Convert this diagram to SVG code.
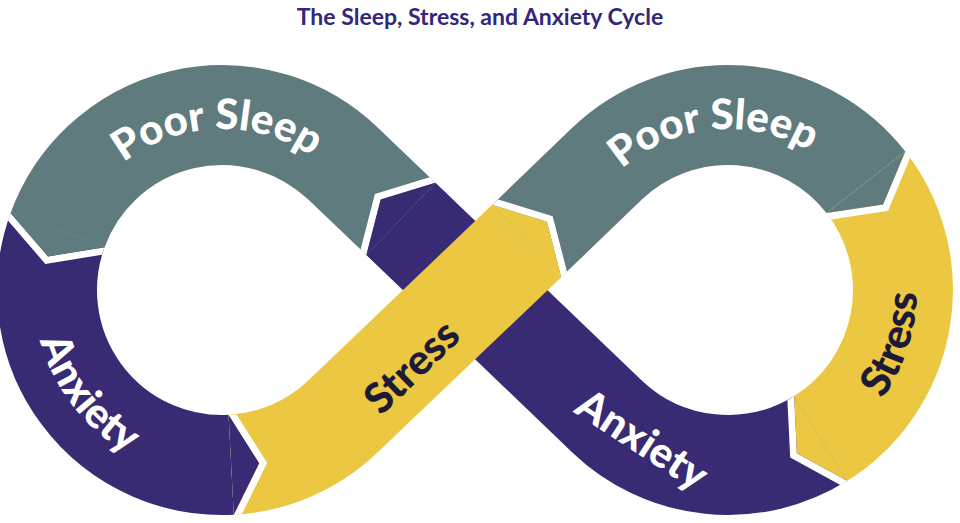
<svg xmlns="http://www.w3.org/2000/svg" width="960" height="523" viewBox="0 0 960 523">
<style>
.band{fill:none;stroke-width:100;stroke-linecap:butt;stroke-linejoin:round}
.g{stroke:#5f7b7d}.p{stroke:#382b73}.y{stroke:#ecc741}
.gap{fill:#ffffff}
.lbl{font-family:Lato,"Open Sans",sans-serif;font-weight:900;font-size:42px}
.w{fill:#ffffff}.d{fill:#1d1a36}
</style>
<defs>
<path id="arcPS1" d="M61 290 A161 161 0 0 1 383 290"/>
<path id="arcPS2" d="M567 290 A161 161 0 0 1 889 290"/>
<path id="arcAx1" d="M222 101 A189 189 0 0 0 222 479"/>
<path id="arcSt2" d="M728 479 A189 189 0 0 0 728 101"/>
</defs>
<rect width="960" height="523" fill="#ffffff"/>
<text x="480" y="25" text-anchor="middle" style="font-family:Lato,'Open Sans',sans-serif;font-weight:700;font-size:23px;fill:#33277a">The Sleep, Stress, and Anxiety Cycle</text>
<g id="connectors">
<path id="purple-left" class="band p" d="M57.6 230.1 A175 175 0 0 0 231.2 464.8"/>
<path id="grey-left" class="band g" d="M400.9 218.9 L343.1 163.7 A175 175 0 0 0 57.6 230.1"/>
<path id="purple-right" class="band p" d="M820.7 438.4 A175 175 0 0 1 606.9 416.3 L400.9 218.9"/>
<path id="grey-right" class="band g" d="M526.7 241 L606.9 163.7 A175 175 0 0 1 865.9 182.3"/>
<path id="yellow-right" class="band y" d="M865.9 182.3 A175 175 0 0 1 820.7 438.4"/>
<path id="yellow-left" class="band y" d="M231.2 464.8 A175 175 0 0 0 343.1 416.3 L526.7 241"/>
<polygon class="gap" points="10.6,213 48,256.4 104.6,247.2 101.9,254.7 45.3,263.9 7.9,220.5"/>
<polygon fill="#5f7b7d" points="10.6,213 48,256.4 104.6,247.2"/>
<polygon class="gap" points="233.8,514.7 259.2,463.3 228.6,414.9 236.6,414.5 267.1,462.9 241.8,514.3"/>
<polygon fill="#382b73" points="233.8,514.7 259.2,463.3 228.6,414.9"/>
<polygon class="gap" points="561.2,277.2 546.9,221.7 492.2,204.9 498,199.4 552.7,216.2 567,271.7"/>
<polygon fill="#ecc741" points="561.2,277.2 546.9,221.7 492.2,204.9"/>
<polygon class="gap" points="905.3,151.5 883.1,204.4 826.5,213.1 831.4,219.4 888.1,210.7 910.2,157.8"/>
<polygon fill="#5f7b7d" points="905.3,151.5 883.1,204.4 826.5,213.1"/>
<polygon class="gap" points="847.2,480.8 796.9,453.2 794.2,396 787.4,400.2 790.2,457.5 840.4,485"/>
<polygon fill="#ecc741" points="847.2,480.8 796.9,453.2 794.2,396"/>
<polygon class="gap" points="435.4,182.8 380.7,199.6 366.4,255.1 360.6,249.6 374.9,194.1 429.6,177.3"/>
<polygon fill="#382b73" points="435.4,182.8 380.7,199.6 366.4,255.1"/>
</g>
<g id="node-poor-sleep-left"><text class="lbl w" text-anchor="middle"><textPath href="#arcPS1" startOffset="49%">Poor Sleep</textPath></text></g>
<g id="node-anxiety-left"><text class="lbl w" text-anchor="middle"><textPath href="#arcAx1" startOffset="71%">Anxiety</textPath></text></g>
<g id="node-stress-left"><text class="lbl d" text-anchor="middle" x="0" y="14" transform="translate(412,367) rotate(-44)">Stress</text></g>
<g id="node-poor-sleep-right"><text class="lbl w" text-anchor="middle"><textPath href="#arcPS2" startOffset="47%">Poor Sleep</textPath></text></g>
<g id="node-stress-right"><text class="lbl d" text-anchor="middle"><textPath href="#arcSt2" startOffset="40%">Stress</textPath></text></g>
<g id="node-anxiety-right"><text class="lbl w" text-anchor="middle" x="0" y="14" transform="translate(642,440) rotate(33)">Anxiety</text></g>
</svg>
